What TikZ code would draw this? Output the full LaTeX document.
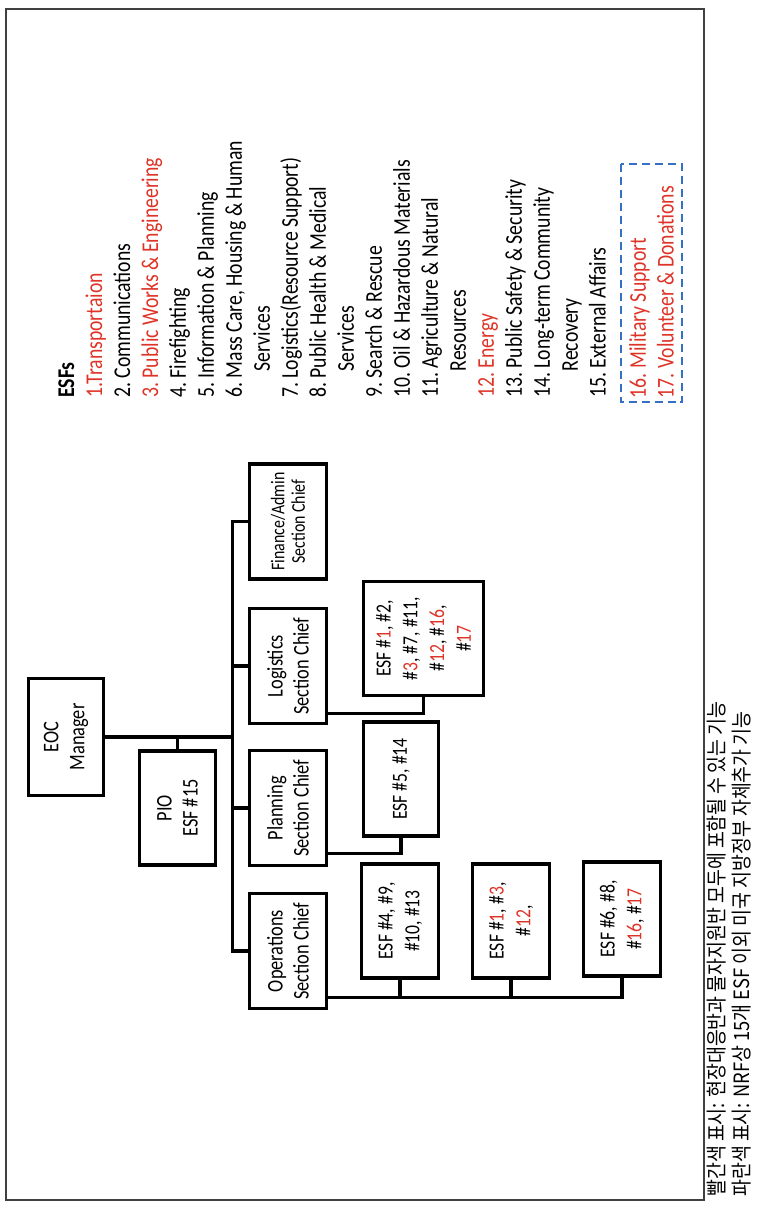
\documentclass[tikz,border=0pt]{standalone}
\usepackage{fontspec}
\setmainfont{Carlito}[FakeStretch=0.82]
\newfontfamily\kfont{Noto Sans CJK KR}[FakeStretch=0.87]
\usetikzlibrary{calc}
\definecolor{esfred}{RGB}{222,52,40}
\definecolor{esfblue}{RGB}{52,112,196}
\newcommand{\rd}[1]{\textcolor{esfred}{#1}}
\tikzset{box/.style={draw, line width=2.4pt, rotate=90, align=center, inner sep=0pt, minimum width=2.875cm, minimum height=1.925cm},
chief/.style={box, font=\fontsize{15.9}{18.5}\selectfont\frenchspacing},
esfbox/.style={box, font=\fontsize{15.3}{19}\selectfont\frenchspacing},
conn/.style={line width=2.2pt},
listtext/.style={rotate=90, align=left, inner sep=0pt, anchor=north west, font=\fontsize{17.1}{19.9}\selectfont\frenchspacing},
donbox/.style={draw=esfblue, line width=1.4pt, dash pattern=on 5.7pt off 3.5pt, rotate=90, align=left, anchor=north west, inner xsep=0.1cm, inner ysep=0pt, text width=5.75cm, minimum height=1.525cm, font=\fontsize{17.1}{19.9}\selectfont\frenchspacing}}

\begin{document}
\begin{tikzpicture}[x=0.025cm, y=-0.025cm]
  \useasboundingbox (0,0) rectangle (769,1210);
  \draw[line width=1pt, black!75] (6,9) rectangle (704,1200);

  % chart
  \node[chief, minimum height=1.875cm, minimum width=2.925cm] (eoc) at (66,737) {EOC\\Manager};
  \node[chief, minimum height=1.9cm, minimum width=2.85cm] (pio) at (177.5,808) {PIO\\ESF \#15};
  \node[chief, font=\fontsize{13.8}{14.5}\selectfont] (fin) at (288,521.5) {Finance/Admin\\Section Chief};
  \node[chief] (logi) at (288,666) {Logistics\\Section Chief};
  \node[chief] (plan) at (288,808) {Planning\\Section Chief};
  \node[chief] (ops) at (288,951) {Operations\\Section Chief};

  \node[esfbox, minimum height=3.0cm, minimum width=2.85cm] (lesf) at (423.5,638.5) {ESF \#\rd{1}, \#2,\\\#\rd{3}, \#7, \#11,\\\#\rd{12}, \#\rd{16},\\\#\rd{17}};
  \node[esfbox, minimum height=1.875cm, minimum width=2.85cm] (pesf) at (401,779) {ESF \#5, \#14};
  \node[esfbox, minimum width=2.85cm] (oesf1) at (400,921) {ESF \#4, \#9,\\\#10, \#13};
  \node[esfbox, minimum width=2.85cm] (oesf2) at (511,921) {ESF \#\rd{1}, \#\rd{3},\\\#\rd{12},};
  \node[esfbox, minimum width=2.85cm] (oesf3) at (622,919) {ESF \#6, \#8,\\\#\rd{16}, \#\rd{17}};

  \coordinate (bus) at ($(fin.north)+(-15,0)$);
  \draw[conn] (fin.north) -- (bus) |- (ops.north);
  \draw[conn] (logi.north) -- (logi.north -| bus);
  \draw[conn] (plan.north) -- (plan.north -| bus);
  \draw[conn] (eoc.south) -- (eoc.south -| bus);
  \draw[conn] (pio.east) -- (pio.east |- eoc.south);

  \draw[conn] ($(logi.south west)+(0,-12)$) -| (lesf.west);
  \draw[conn] ($(plan.south west)+(0,-14)$) -| (pesf.west);
  \coordinate (obus) at ($(ops.south west)+(0,-13)$);
  \draw[conn] (obus) -| (oesf3.west);
  \draw[conn] (oesf1.west) -- (oesf1.west |- obus);
  \draw[conn] (oesf2.west) -- (oesf2.west |- obus);

  % ESF list
  \node[listtext] (esfs) at (58,398) {\textbf{ESFs}\\
    \rd{1.Transportaion}\\
    2. Communications\\
    \rd{3. Public Works \& Engineering}\\
    4. Firefighting\\
    5. Information \& Planning\\
    6. Mass Care, Housing \& Human\\
    \hspace*{1.1em}Services\\
    7. Logistics(Resource Support)\\
    8. Public Health \& Medical\\
    \hspace*{1.1em}Services\\
    9. Search \& Rescue\\
    10. Oil \& Hazardous Materials\\
    11. Agriculture \& Natural\\
    \hspace*{1.1em}Resources\\
    \rd{12. Energy}\\
    13. Public Safety \& Security\\
    14. Long-term Community\\
    \hspace*{1.1em}Recovery\\
    15. External Affairs};
  \node[donbox] (don) at (620,403) {\spaceskip=0pt\xspaceskip=0pt\relax
    \rd{16. Military Support}\\\rd{17. Volunteer \& Donations}};

  % note
  \node[rotate=90, align=left, anchor=north west, inner sep=0pt, font=\kfont\fontsize{15}{17.8}\selectfont] (note) at (707,1197) {빨간색 표시: 현장대응반과 물자지원반 모두에 포함될 수 있는 기능\\파란색 표시: NRF상 15개 ESF 이외 미국 지방정부 자체추가 기능};
\end{tikzpicture}
\end{document}
